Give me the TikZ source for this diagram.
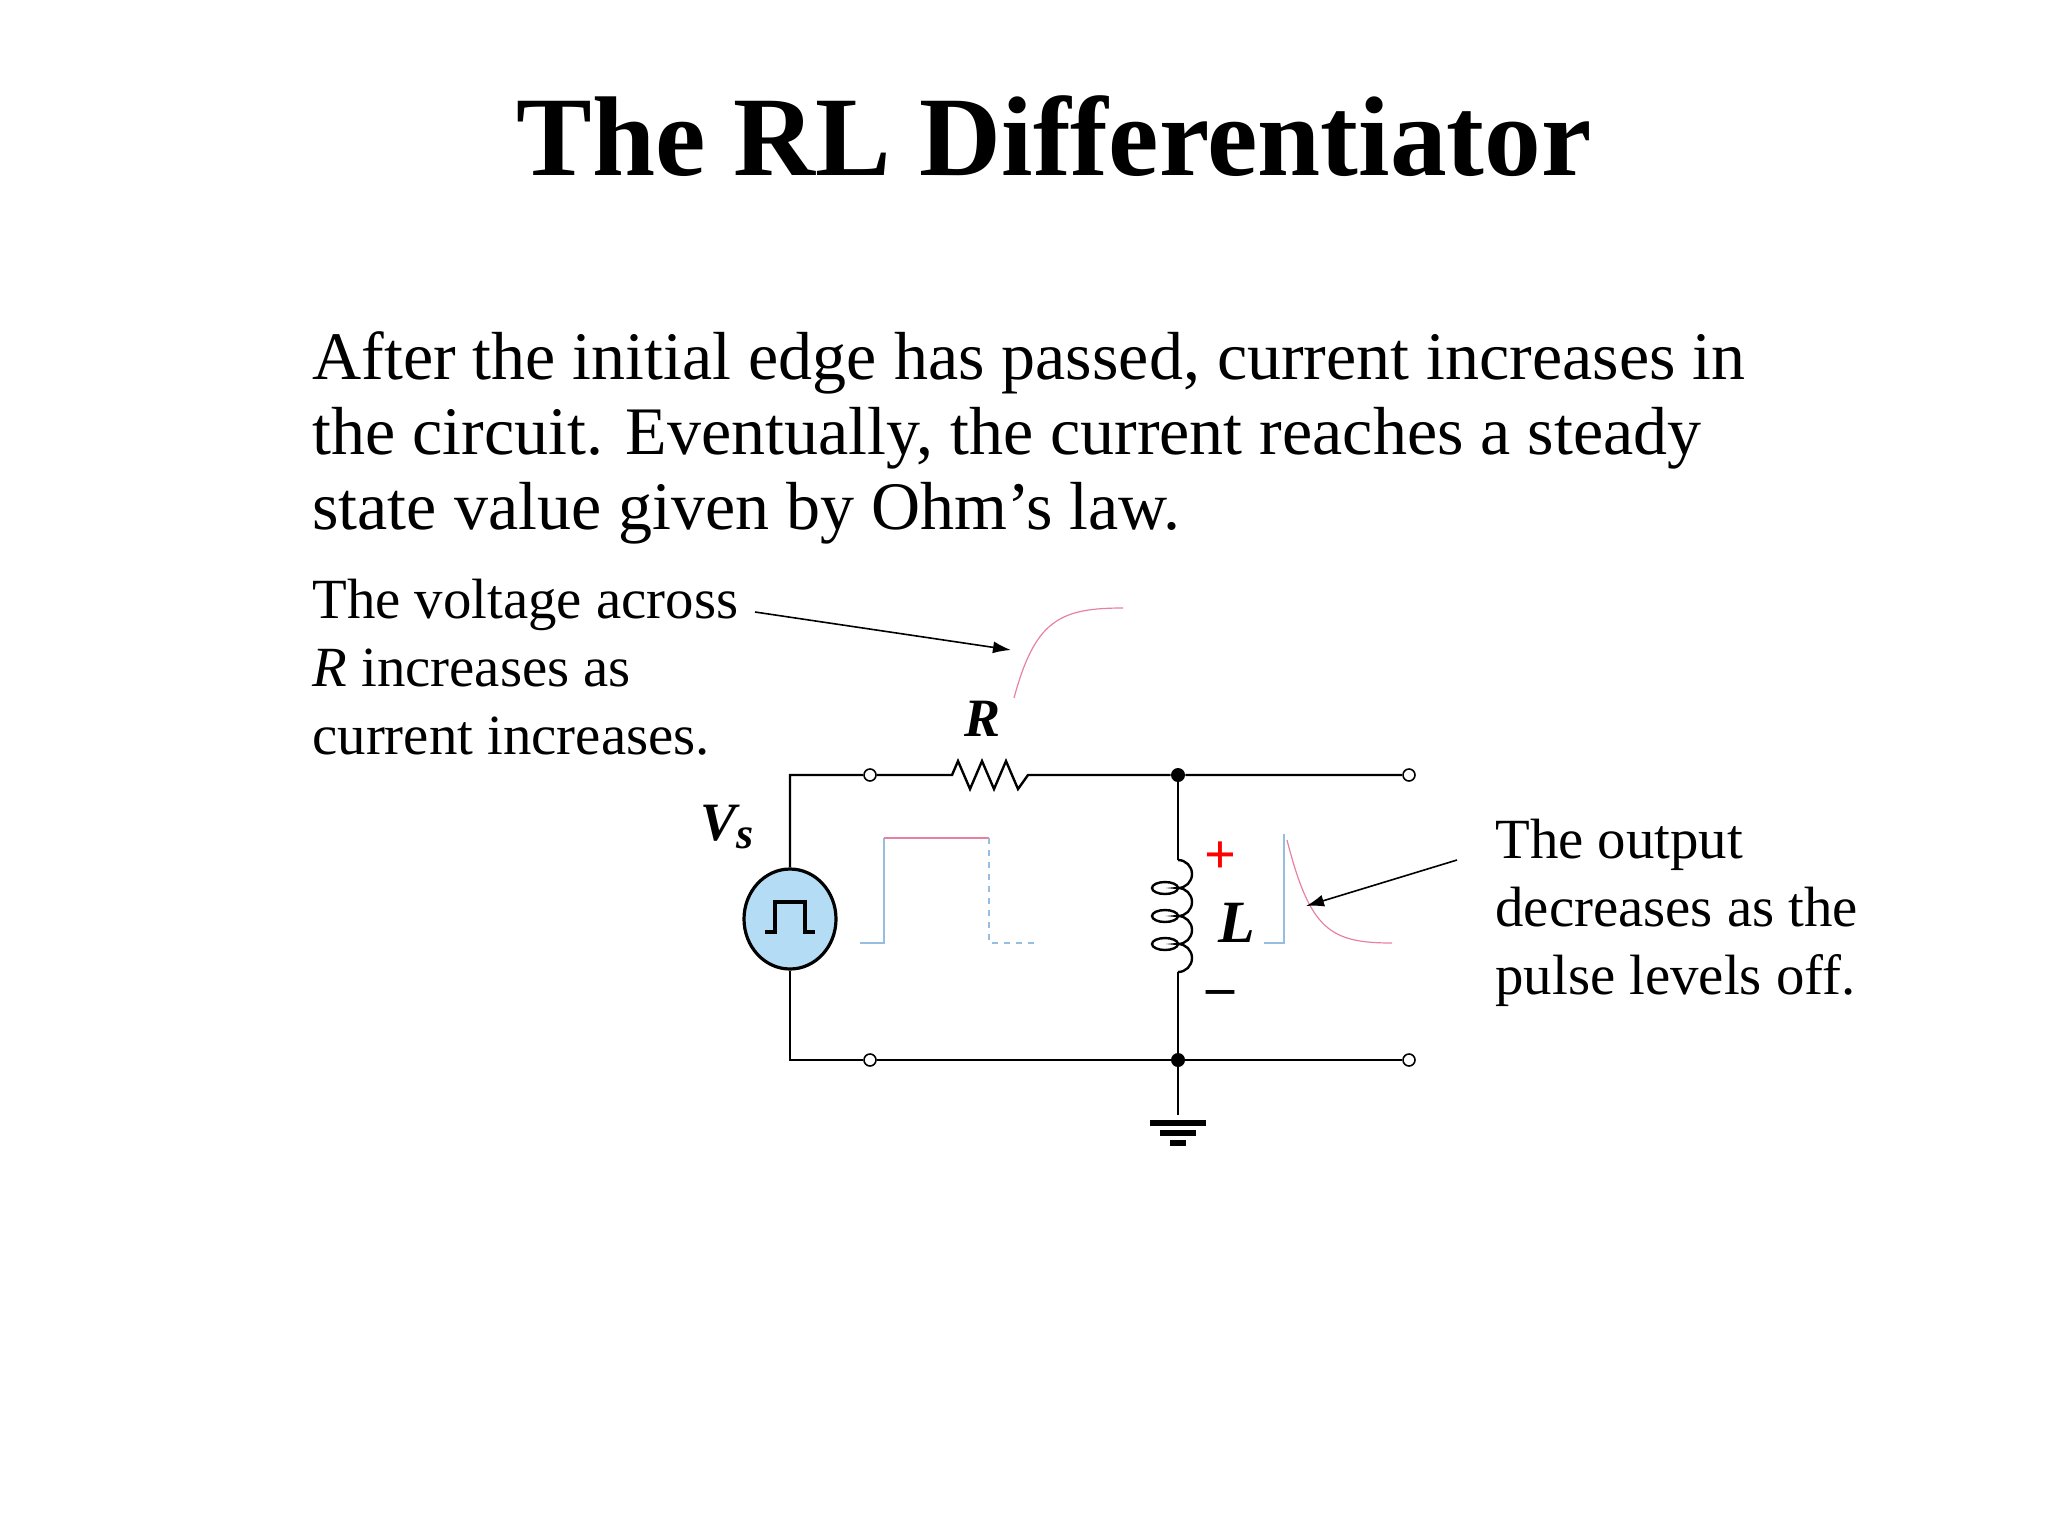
\documentclass[tikz,border=0pt]{standalone}
\usepackage{fontspec}
\setmainfont{Liberation Serif}
\usetikzlibrary{arrows.meta,shapes.geometric}
\begin{document}
\begin{tikzpicture}[x=0.5pt,y=-0.5pt,
  wire/.style={line width=1.2pt},
  term/.style={circle,draw,fill=white,inner sep=0pt,minimum width=6pt,line width=0.8pt},
  dot/.style={circle,fill,inner sep=0pt,minimum size=7pt},
  txt/.style={anchor=base west,align=left,inner sep=0pt},
  ptr/.style={-{Latex[length=9pt,width=6pt]},line width=0.8pt}]
\useasboundingbox (0,0) rectangle (2048,1536);
\node[anchor=base,inner sep=0pt,font=\fontsize{56.7}{62}\selectfont\bfseries] (title) at (1054,175) {The RL Differentiator};
\node[txt,font=\fontsize{34}{37.5}\selectfont] (body) at (312,529) {After the initial edge has passed, current increases in\\the circuit. Eventually, the current reaches a steady\\state value given by Ohm’s law.};
\node[txt,font=\fontsize{28.4}{34}\selectfont] (t1) at (312,754) {The voltage across\\\textit{R} increases as\\current increases.};
\node[txt,font=\fontsize{28.4}{34}\selectfont] (t2) at (1495,994) {The output\\decreases as the\\pulse levels off.};
% circuit
\coordinate (tl) at (790,775); \coordinate (bl) at (790,1060);
\node[term] (i1) at (870,775) {};
\node[term] (i2) at (870,1060) {};
\node[term] (o1) at (1409,775) {};
\node[term] (o2) at (1409,1060) {};
\node[dot] (n1) at (1178,775) {};
\node[dot] (n2) at (1178,1060) {};
\node[draw,ellipse,minimum width=46pt,minimum height=50pt,fill={rgb,255:red,180;green,220;blue,245},line width=1.6pt,inner sep=0pt] (src) at (790,919) {};
\draw[line width=1.6pt] (765,932)--(775,932)--(775,902)--(805,902)--(805,932)--(815,932);
\draw[wire] (src.north)--(tl)--(i1)--(952,775)--(958,761)--(970,789)--(982,761)--(994,789)--(1006,761)--(1018,789)--(1028,775)--(n1)--(o1);
\draw[wire] (src.south)--(bl)--(i2)--(n2)--(o2);
\draw[wire] (n1)--(1178,860);
\draw[wire] (1178,972)--(n2)--(1178,1115);
\draw[wire] (1178,860) arc(-90:90:14) arc(-90:90:14) arc(-90:90:14) arc(-90:90:14);
\foreach \y in {888,916,944} \draw[wire] (1165,\y) ellipse (13 and 6);
\draw[line width=3pt] (1150,1123)--(1206,1123) (1160,1133)--(1196,1133) (1170,1143)--(1186,1143);
\node[font=\fontsize{27}{30}\selectfont\bfseries\itshape] (R) at (982,719) {R};
\node[font=\fontsize{27}{30}\selectfont\bfseries\itshape] (Vs) at (727,827) {V\raisebox{-0.35ex}{\fontsize{22}{24}\selectfont s}};
\node[font=\fontsize{30}{32}\selectfont\bfseries\itshape] (L) at (1237,923) {L};
\node[font=\fontsize{28}{30}\selectfont\bfseries,text=red] (plus) at (1220,858) {+};
\node[font=\fontsize{28}{30}\selectfont\bfseries] (minus) at (1220,998) {–};
% waveforms
\definecolor{wb}{RGB}{150,190,225}\definecolor{wr}{RGB}{230,130,160}
\draw[wb,line width=0.6pt] (860,943)--(884,943)--(884,838);
\draw[wr,line width=0.6pt] (884,838)--(989,838);
\draw[wb,line width=0.6pt,dashed] (989,838)--(989,943)--(1037,943);
\draw[wb,line width=0.6pt] (1264,943)--(1284,943)--(1284,834);
\draw[wr,line width=0.6pt] (1287,840) .. controls (1310,930) and (1330,943) .. (1392,943);
\draw[wr,line width=0.6pt] (1014,698) .. controls (1035,620) and (1060,608) .. (1123,608);
\coordinate (a1s) at (755,612); \coordinate (a1e) at (1011,650);
\coordinate (a2s) at (1457,860); \coordinate (a2e) at (1306,906);
\draw[ptr] (a1s)--(a1e);
\draw[ptr] (a2s)--(a2e);
\end{tikzpicture}
\end{document}
